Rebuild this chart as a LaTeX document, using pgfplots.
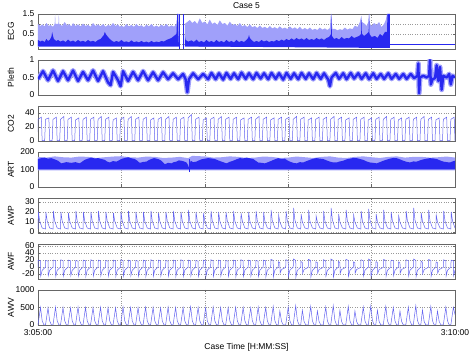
\documentclass[border=0pt]{standalone}
\usepackage{fontspec}
\setmainfont{Liberation Sans}
\usepackage{pgfplots}
\pgfplotsset{compat=1.18}
\definecolor{lightb}{RGB}{160,160,250}
\definecolor{darkb}{RGB}{40,40,240}
\definecolor{lineb}{RGB}{100,100,240}
\newcommand{\ff}{\fontsize{8.5}{10}\selectfont}
\pgfplotsset{
 panel/.style={
  scale only axis, width=417pt, height=35pt,
  xmin=0, xmax=500,
  xtick={0,100,200,300,400,500}, xticklabels={},
  grid=major,
  grid style={dotted, black!40, line width=0.4pt},
  tick align=inside,
  major tick length=2.5pt,
  axis line style={black!60, line width=0.5pt},
  tick style={black!60, line width=0.4pt},
  tick label style={font=\ff},
  ylabel style={font=\ff, at={(axis description cs:-0.065,0.5)}, anchor=center},
  every axis title/.style={font=\ff, at={(axis description cs:0.5,1)}, anchor=south, yshift=1.5pt},
  xlabel style={font=\ff},
  anchor=south west,
 }
}
\begin{document}
\begin{tikzpicture}
\useasboundingbox (0pt,0pt) rectangle (474pt,355pt);
% ECG
\begin{axis}[panel, at={(38pt,306pt)}, ymin=-0.25, ymax=1.5, ytick={0,0.5,1,1.5}, yticklabels={0,0.5,1,1.5}, ylabel={ECG}, title={Case 5}]
\addplot[fill=lightb, draw=none] coordinates {(0,-0.15)(0,1.0)(3,0.9)(5,0.98)(8,0.88)(10,1.05)(13,0.9)(15,0.95)(18,0.86)(20,1.0)(20.5,1.5)(21,1.0)(24.5,1.0)(25,1.5)(25.5,1.0)(29,0.9)(32,1.1)(35,0.92)(37,1.0)(40,0.88)(42,1.05)(45,0.9)(48,0.98)(51,0.88)(54,1.02)(57,0.9)(60,0.96)(63,0.86)(66,1.05)(69,0.9)(72,0.98)(75,0.88)(78,1.0)(81,0.86)(84,0.95)(87,0.9)(90,1.05)(93,0.9)(96,0.98)(98,0.86)(100,0.92)(103,0.85)(106,1.0)(109,0.88)(112,0.95)(115,0.86)(118,1.0)(121,0.88)(124,0.94)(127,0.84)(130,0.97)(133,0.88)(136,1.0)(139,0.86)(142,0.92)(145,0.85)(148,0.97)(151,0.88)(154,1.0)(157,0.86)(160,0.93)(163,0.87)(166,1.0)(167,1.5)(168.5,1.5)(169,-0.15)};
\addplot[fill=lightb, draw=none] coordinates {(176,-0.15)(176,1.0)(179,1.1)(182,1.2)(185,1.05)(188,1.15)(191,1.0)(194,1.28)(197,1.05)(200,1.12)(203,0.98)(206,1.22)(209,1.0)(212,1.08)(215,0.95)(218,1.18)(221,1.0)(224,1.05)(227,0.92)(230,1.12)(233,0.95)(236,1.0)(239,0.9)(242,1.05)(245,0.88)(248,0.95)(251,0.85)(254,0.98)(257,0.84)(260,0.9)(263,0.8)(266,0.92)(269,0.8)(272,0.86)(275,0.78)(278,0.9)(281,0.78)(284,0.84)(287,0.76)(290,0.88)(293,0.76)(296,0.82)(299,0.75)(302,0.88)(305,0.76)(308,0.83)(311,0.74)(314,0.86)(317,0.72)(320,0.8)(323,0.72)(326,0.82)(329,0.7)(332,0.76)(335,0.7)(338,0.82)(341,0.72)(344,0.78)(347,0.7)(350,0.8)(351.2,1.5)(351.8,1.5)(353,0.75)(356,0.76)(359,0.68)(362,0.74)(365,0.7)(368,0.82)(371,0.72)(374,0.78)(377,0.74)(380,0.92)(383,0.85)(386,1.1)(387.5,1.4)(388.5,1.1)(392,1.0)(394,0.9)(396,1.1)(396.7,1.5)(397.3,1.5)(398,1.0)(400,0.9)(403,1.05)(406,0.95)(409,1.1)(412,0.85)(415,1.0)(417,1.2)(418.5,1.5)(422,1.5)(422,-0.15)};
\addplot[fill=darkb, draw=none] coordinates {(0,-0.12)(0,0.2)(3,0.12)(5,0.17)(8,0.1)(10,0.25)(12,0.15)(14,0.2)(16,0.35)(17,0.6)(18,0.4)(19,0.25)(22,0.15)(24,0.2)(27,0.12)(30,0.18)(33,0.1)(36,0.22)(39,0.12)(42,0.17)(45,0.1)(48,0.2)(51,0.12)(54,0.16)(57,0.1)(60,0.2)(63,0.12)(66,0.16)(69,0.1)(72,0.2)(75,0.25)(77,0.35)(79,0.45)(80,0.6)(82,0.45)(84,0.35)(86,0.25)(88,0.18)(91,0.1)(94,0.15)(97,0.1)(100,0.2)(103,0.1)(106,0.13)(109,0.08)(112,0.18)(115,0.09)(118,0.13)(121,0.08)(124,0.15)(127,0.08)(130,0.12)(133,0.07)(136,0.15)(139,0.08)(142,0.12)(145,0.09)(148,0.15)(151,0.12)(154,0.2)(157,0.25)(160,0.3)(163,0.4)(166,0.5)(167,1.5)(168,1.5)(168.5,0.3)(169,-0.12)};
\addplot[fill=darkb, draw=none] coordinates {(176,-0.12)(176,0.45)(177,0.2)(180,0.12)(184,0.18)(187,0.1)(190,0.22)(193,0.1)(196,0.15)(199,0.08)(202,0.2)(205,0.1)(208,0.15)(211,0.08)(214,0.2)(217,0.1)(220,0.15)(223,0.08)(226,0.2)(229,0.1)(232,0.15)(235,0.08)(238,0.2)(241,0.1)(244,0.15)(247,0.1)(250,0.2)(252,0.3)(253,0.45)(254,0.3)(256,0.2)(259,0.1)(262,0.15)(265,0.1)(268,0.2)(271,0.12)(274,0.18)(277,0.1)(280,0.15)(283,0.12)(286,0.2)(289,0.14)(292,0.22)(295,0.16)(298,0.25)(301,0.18)(304,0.28)(307,0.2)(310,0.3)(313,0.22)(316,0.28)(319,0.2)(322,0.3)(325,0.2)(328,0.25)(331,0.2)(334,0.3)(337,0.22)(340,0.28)(343,0.2)(346,0.3)(349,0.35)(351.5,0.5)(352,1.5)(352.5,0.4)(355,0.25)(358,0.3)(361,0.22)(364,0.35)(367,0.25)(370,0.3)(373,0.28)(376,0.4)(379,0.3)(382,0.35)(385,0.4)(387.5,0.5)(388,1.4)(388.5,0.5)(391,0.4)(394,0.5)(396.5,0.6)(397,1.5)(397.5,0.5)(400,0.35)(404,0.4)(407,0.3)(410,0.5)(413,0.4)(416,0.6)(418.5,0.6)(419,1.5)(422,1.5)(422,-0.2)};
\addplot[darkb, line width=0.6pt] coordinates {(170,-0.25)(170,1.5)};
\addplot[darkb, line width=0.6pt] coordinates {(174,-0.25)(174,1.5)};
\addplot[darkb, line width=0.6pt] coordinates {(422,0)(500,0)};
\end{axis}
% Pleth
\begin{axis}[panel, at={(38pt,260pt)}, ymin=0, ymax=1, ytick={0,0.5,1}, yticklabels={0,0.5,1}, ylabel={Pleth}]
\addplot[lightb, line width=5pt, line join=round] coordinates {(0,0.45)(6,0.68)(12,0.42)(18,0.70)(24,0.40)(30,0.68)(36,0.42)(42,0.70)(48,0.40)(54,0.66)(60,0.42)(66,0.70)(72,0.40)(78,0.68)(84,0.36)(87,0.28)(90,0.66)(96,0.42)(99,0.25)(102,0.68)(108,0.40)(114,0.66)(120,0.42)(126,0.68)(132,0.42)(138,0.65)(144,0.42)(150,0.65)(156,0.45)(162,0.62)(168,0.45)(174,0.60)(177,0.45)(179,0.08)(181,0.45)(186,0.62)(192,0.45)(198,0.60)(204,0.45)(208,0.63)(213,0.45)(217,0.62)(222,0.44)(226,0.63)(231,0.46)(235,0.62)(240,0.45)(244,0.64)(249,0.46)(253,0.62)(258,0.45)(262,0.63)(267,0.47)(271,0.62)(276,0.45)(280,0.63)(285,0.46)(289,0.62)(294,0.44)(298,0.63)(303,0.46)(307,0.62)(312,0.45)(316,0.63)(321,0.46)(325,0.62)(330,0.45)(334,0.63)(339,0.46)(343,0.62)(348,0.44)(350,0.25)(352,0.50)(357,0.63)(361,0.46)(366,0.62)(370,0.45)(375,0.63)(379,0.47)(384,0.62)(388,0.46)(393,0.62)(397,0.45)(402,0.62)(406,0.46)(411,0.60)(415,0.46)(420,0.62)(424,0.46)(429,0.60)(433,0.46)(438,0.60)(442,0.46)(447,0.60)(451,0.48)(455,0.55)(456,0.9)(457,0.05)(458,0.5)(462,0.55)(466,0.5)(469,0.55)(470,1.0)(471,0.3)(473,0.45)(476,0.48)(478,0.85)(480,0.4)(482,0.8)(484,0.15)(486,0.55)(490,0.5)(493,0.6)(495,0.3)(497,0.55)(500,0.5)};
\addplot[darkb, line width=2.4pt, line join=round] coordinates {(0,0.45)(6,0.68)(12,0.42)(18,0.70)(24,0.40)(30,0.68)(36,0.42)(42,0.70)(48,0.40)(54,0.66)(60,0.42)(66,0.70)(72,0.40)(78,0.68)(84,0.36)(87,0.28)(90,0.66)(96,0.42)(99,0.25)(102,0.68)(108,0.40)(114,0.66)(120,0.42)(126,0.68)(132,0.42)(138,0.65)(144,0.42)(150,0.65)(156,0.45)(162,0.62)(168,0.45)(174,0.60)(177,0.45)(179,0.08)(181,0.45)(186,0.62)(192,0.45)(198,0.60)(204,0.45)(208,0.63)(213,0.45)(217,0.62)(222,0.44)(226,0.63)(231,0.46)(235,0.62)(240,0.45)(244,0.64)(249,0.46)(253,0.62)(258,0.45)(262,0.63)(267,0.47)(271,0.62)(276,0.45)(280,0.63)(285,0.46)(289,0.62)(294,0.44)(298,0.63)(303,0.46)(307,0.62)(312,0.45)(316,0.63)(321,0.46)(325,0.62)(330,0.45)(334,0.63)(339,0.46)(343,0.62)(348,0.44)(350,0.25)(352,0.50)(357,0.63)(361,0.46)(366,0.62)(370,0.45)(375,0.63)(379,0.47)(384,0.62)(388,0.46)(393,0.62)(397,0.45)(402,0.62)(406,0.46)(411,0.60)(415,0.46)(420,0.62)(424,0.46)(429,0.60)(433,0.46)(438,0.60)(442,0.46)(447,0.60)(451,0.48)(455,0.55)(456,0.9)(457,0.05)(458,0.5)(462,0.55)(466,0.5)(469,0.55)(470,1.0)(471,0.3)(473,0.45)(476,0.48)(478,0.85)(480,0.4)(482,0.8)(484,0.15)(486,0.55)(490,0.5)(493,0.6)(495,0.3)(497,0.55)(500,0.5)};
\end{axis}
% CO2
\begin{axis}[panel, at={(38pt,214pt)}, ymin=0, ymax=50, ytick={0,20,40}, yticklabels={0,20,40}, ylabel={CO2}]
\addplot[lineb, line width=0.5pt] coordinates {(-1,.5)(0,31)(4,34)(5,.5)(8,.5)(9,31)(13,33)(14,.5)(17,.5)(18,31)(22,34)(23,.5)(26,.5)(27,31)(31,35)(32,.5)(35,.5)(36,31)(40,34)(41,.5)(44,.5)(45,30)(49,33)(50,.5)(53,.5)(54,31)(58,34)(59,.5)(62,.5)(63,31)(67,34)(68,.5)(71,.5)(72,31)(76,35)(77,.5)(80,.5)(81,31)(85,34)(86,.5)(89,.5)(90,30)(94,33)(95,.5)(98,.5)(99,31)(103,34)(104,.5)(107,.5)(108,31)(112,35)(113,.5)(116,.5)(117,31)(121,34)(122,.5)(125,.5)(126,31)(130,34)(131,.5)(134,.5)(135,30)(139,33)(140,.5)(143,.5)(144,31)(148,34)(149,.5)(152,.5)(153,31)(157,35)(158,.5)(161,.5)(162,31)(166,34)(167,.5)(170,.5)(171,31)(175,34)(176,.5)(179,.5)(180,33)(184,38)(185,.5)(188,.5)(189,31)(193,34)(194,.5)(197,.5)(198,30)(202,33)(203,.5)(206,.5)(207,31)(211,34)(212,.5)(215,.5)(216,31)(220,35)(221,.5)(224,.5)(225,31)(229,34)(230,.5)(233,.5)(234,31)(238,34)(239,.5)(242,.5)(243,30)(247,33)(248,.5)(251,.5)(252,31)(256,34)(257,.5)(260,.5)(261,31)(265,35)(266,.5)(269,.5)(270,31)(274,34)(275,.5)(278,.5)(279,30)(283,33)(284,.5)(287,.5)(288,31)(292,34)(293,.5)(296,.5)(297,31)(301,34)(302,.5)(305,.5)(306,31)(310,35)(311,.5)(314,.5)(315,31)(319,34)(320,.5)(323,.5)(324,30)(328,33)(329,.5)(332,.5)(333,31)(337,34)(338,.5)(341,.5)(342,31)(346,34)(347,.5)(350,.5)(351,31)(355,35)(356,.5)(359,.5)(360,31)(364,34)(365,.5)(368,.5)(369,30)(373,33)(374,.5)(377,.5)(378,31)(382,34)(383,.5)(386,.5)(387,31)(391,34)(392,.5)(395,.5)(396,30)(400,33)(401,.5)(404,.5)(405,31)(409,34)(410,.5)(413,.5)(414,31)(418,35)(419,.5)(422,.5)(423,31)(427,34)(428,.5)(431,.5)(432,30)(436,33)(437,.5)(440,.5)(441,31)(445,34)(446,.5)(449,.5)(450,31)(454,34)(455,.5)(458,.5)(459,31)(463,35)(464,.5)(467,.5)(468,31)(472,34)(473,.5)(476,.5)(477,30)(481,33)(482,.5)(485,.5)(486,31)(490,34)(491,.5)(494,.5)(495,31)(499,34)(500,.5)};
\end{axis}
% ART
\begin{axis}[panel, at={(38pt,168pt)}, ymin=0, ymax=200, ytick={0,100,200}, yticklabels={0,100,200}, ylabel={ART}]
\addplot[fill=lightb, draw=none] coordinates {(0,95)(0,172)(10,168)(20,175)(30,170)(40,168)(50,174)(60,172)(70,166)(80,170)(90,174)(100,176)(110,170)(120,168)(130,174)(140,172)(150,166)(160,168)(170,172)(180,165)(185,178)(192,176)(200,175)(210,168)(220,170)(230,175)(240,172)(250,166)(260,168)(270,174)(280,172)(290,166)(300,168)(310,174)(320,170)(330,166)(340,172)(350,175)(360,168)(370,166)(380,172)(390,175)(400,170)(410,166)(420,172)(430,175)(440,168)(450,172)(460,172)(470,168)(480,170)(490,174)(500,168)(500,95)};
\addplot[fill=darkb, draw=none] coordinates {(0,100)(0,160)(4,165)(8,168)(12,162)(16,165)(20,158)(24,150)(28,135)(34,142)(40,138)(45,142)(50,135)(53,145)(56,155)(60,162)(64,168)(68,163)(72,165)(76,160)(80,155)(83,145)(86,140)(90,148)(94,145)(97,152)(100,160)(104,166)(108,170)(112,164)(116,160)(119,150)(122,138)(126,143)(130,145)(133,154)(136,160)(139,165)(142,162)(145,158)(148,150)(152,130)(156,138)(160,135)(163,142)(166,145)(169,152)(172,150)(175,146)(178,140)(180,125)(181,110)(182,130)(183,150)(186,142)(190,145)(193,152)(196,158)(200,162)(204,165)(208,163)(212,160)(216,152)(220,145)(223,140)(226,135)(230,144)(234,150)(238,158)(242,165)(246,163)(250,168)(254,164)(258,160)(261,150)(264,140)(268,138)(272,135)(276,142)(280,150)(284,158)(288,165)(292,160)(296,162)(299,152)(302,145)(306,138)(310,135)(314,142)(318,140)(322,148)(326,155)(330,162)(334,165)(338,162)(342,160)(346,152)(350,145)(354,140)(358,140)(362,146)(366,150)(370,158)(374,162)(378,166)(382,165)(386,160)(390,155)(394,146)(398,140)(402,138)(406,135)(410,142)(414,150)(418,156)(422,162)(426,166)(430,165)(434,158)(438,150)(442,144)(446,140)(450,146)(454,145)(458,152)(462,158)(466,162)(470,165)(474,163)(478,160)(482,152)(486,145)(490,142)(494,140)(497,146)(500,150)(500,100)};
\addplot[darkb, line width=0.6pt] coordinates {(181,85)(181,160)};
\end{axis}
% AWP
\begin{axis}[panel, at={(38pt,122pt)}, ymin=-1, ymax=34, ytick={0,10,20,30}, yticklabels={0,10,20,30}, ylabel={AWP}]
\addplot[lineb, line width=0.5pt] coordinates {(0,3)(0.5,20)(2,11)(5,4)(9,3)(9.5,20)(11,11)(14,4)(18,3)(18.5,21)(20,11)(23,4)(27,3)(27.5,20)(29,11)(32,4)(36,3)(36.5,19)(38,11)(41,4)(45,3)(45.5,21)(47,11)(50,4)(54,3)(54.5,20)(56,11)(59,4)(63,3)(63.5,20)(65,11)(68,4)(72,3)(72.5,21)(74,11)(77,4)(81,3)(81.5,20)(83,11)(86,4)(90,3)(90.5,19)(92,11)(95,4)(99,3)(99.5,20)(101,11)(104,4)(108,3)(108.5,21)(110,11)(113,4)(117,3)(117.5,20)(119,11)(122,4)(126,3)(126.5,20)(128,11)(131,4)(135,3)(135.5,21)(137,11)(140,4)(144,3)(144.5,19)(146,11)(149,4)(153,3)(153.5,20)(155,11)(158,4)(162,3)(162.5,21)(164,11)(167,4)(171,3)(171.5,20)(173,11)(176,4)(180,3)(180.5,22)(182,11)(185,4)(189,3)(189.5,20)(191,11)(194,4)(198,3)(198.5,19)(200,11)(203,4)(207,3)(207.5,21)(209,11)(212,4)(216,3)(216.5,20)(218,11)(221,4)(225,3)(225.5,20)(227,11)(230,4)(234,3)(234.5,21)(236,11)(239,4)(243,3)(243.5,19)(245,11)(248,4)(252,3)(252.5,20)(254,11)(257,4)(261,3)(261.5,21)(263,11)(266,4)(270,3)(270.5,20)(272,11)(275,4)(279,3)(279.5,22)(281,11)(284,4)(288,3)(288.5,17)(290,10)(293,4)(297,3)(297.5,21)(299,11)(302,4)(306,3)(306.5,24)(308,12)(311,4)(315,3)(315.5,18)(317,10)(320,4)(324,3)(324.5,22)(326,11)(329,4)(333,3)(333.5,16)(335,10)(338,4)(342,3)(342.5,21)(344,11)(347,4)(351,3)(351.5,24)(353,12)(356,4)(360,3)(360.5,18)(362,10)(365,4)(369,3)(369.5,22)(371,11)(374,4)(378,3)(378.5,17)(380,10)(383,4)(387,3)(387.5,21)(389,11)(392,4)(396,3)(396.5,23)(398,12)(401,4)(405,3)(405.5,18)(407,10)(410,4)(414,3)(414.5,22)(416,11)(419,4)(423,3)(423.5,20)(425,11)(428,4)(432,3)(432.5,16)(434,10)(437,4)(441,3)(441.5,21)(443,11)(446,4)(450,3)(450.5,24)(452,12)(455,4)(459,3)(459.5,19)(461,11)(464,4)(468,3)(468.5,22)(470,11)(473,4)(477,3)(477.5,17)(479,10)(482,4)(486,3)(486.5,21)(488,11)(491,4)(495,3)(495.5,20)(497,11)(500,4)};
\end{axis}
% AWF
\begin{axis}[panel, at={(38pt,76pt)}, ymin=-35, ymax=65, ytick={-20,0,20,40,60}, yticklabels={-20,0,20,40,60}, ylabel={AWF}]
\addplot[lineb, line width=0.5pt] coordinates {(0,-2)(0.3,19)(3,17)(3.3,-27)(5,-10)(8,-3)(9,-2)(9.3,18)(12,16)(12.3,-26)(14,-10)(17,-3)(18,-2)(18.3,19)(21,17)(21.3,-28)(23,-10)(26,-3)(27,-2)(27.3,20)(30,17)(30.3,-27)(32,-10)(35,-3)(36,-2)(36.3,19)(39,17)(39.3,-26)(41,-10)(44,-3)(45,-2)(45.3,18)(48,16)(48.3,-27)(50,-10)(53,-3)(54,-2)(54.3,19)(57,17)(57.3,-28)(59,-10)(62,-3)(63,-2)(63.3,20)(66,17)(66.3,-27)(68,-10)(71,-3)(72,-2)(72.3,19)(75,17)(75.3,-26)(77,-10)(80,-3)(81,-2)(81.3,18)(84,16)(84.3,-27)(86,-10)(89,-3)(90,-2)(90.3,19)(93,17)(93.3,-28)(95,-10)(98,-3)(99,-2)(99.3,20)(102,17)(102.3,-27)(104,-10)(107,-3)(108,-2)(108.3,19)(111,17)(111.3,-26)(113,-10)(116,-3)(117,-2)(117.3,18)(120,16)(120.3,-27)(122,-10)(125,-3)(126,-2)(126.3,19)(129,17)(129.3,-28)(131,-10)(134,-3)(135,-2)(135.3,20)(138,17)(138.3,-27)(140,-10)(143,-3)(144,-2)(144.3,19)(147,17)(147.3,-26)(149,-10)(152,-3)(153,-2)(153.3,18)(156,16)(156.3,-27)(158,-10)(161,-3)(162,-2)(162.3,19)(165,17)(165.3,-28)(167,-10)(170,-3)(171,-2)(171.3,20)(174,17)(174.3,-27)(176,-10)(179,-3)(180,-2)(180.3,19)(183,17)(183.3,-26)(185,-10)(188,-3)(189,-2)(189.3,18)(192,16)(192.3,-27)(194,-10)(197,-3)(198,-2)(198.3,19)(201,17)(201.3,-28)(203,-10)(206,-3)(207,-2)(207.3,20)(210,17)(210.3,-27)(212,-10)(215,-3)(216,-2)(216.3,19)(219,17)(219.3,-26)(221,-10)(224,-3)(225,-2)(225.3,18)(228,16)(228.3,-27)(230,-10)(233,-3)(234,-2)(234.3,19)(237,17)(237.3,-28)(239,-10)(242,-3)(243,-2)(243.3,20)(246,17)(246.3,-27)(248,-10)(251,-3)(252,-2)(252.3,19)(255,17)(255.3,-26)(257,-10)(260,-3)(261,-2)(261.3,18)(264,16)(264.3,-27)(266,-10)(269,-3)(270,-2)(270.3,19)(273,17)(273.3,-28)(275,-10)(278,-3)(279,-2)(279.3,21)(282,18)(282.3,-28)(284,-10)(287,-3)(288,-2)(288.3,14)(290,12)(290.3,-18)(292,-8)(296,-3)(297,-2)(297.3,20)(300,17)(300.3,-27)(302,-10)(305,-3)(306,-2)(306.3,22)(309,18)(309.3,-29)(311,-10)(314,-3)(315,-2)(315.3,15)(317,12)(317.3,-19)(319,-8)(323,-3)(324,-2)(324.3,21)(327,18)(327.3,-28)(329,-10)(332,-3)(333,-2)(333.3,14)(335,12)(335.3,-18)(337,-8)(341,-3)(342,-2)(342.3,20)(345,17)(345.3,-27)(347,-10)(350,-3)(351,-2)(351.3,22)(354,18)(354.3,-29)(356,-10)(359,-3)(360,-2)(360.3,15)(362,12)(362.3,-19)(364,-8)(368,-3)(369,-2)(369.3,21)(372,18)(372.3,-28)(374,-10)(377,-3)(378,-2)(378.3,14)(380,12)(380.3,-18)(382,-8)(386,-3)(387,-2)(387.3,20)(390,17)(390.3,-27)(392,-10)(395,-3)(396,-2)(396.3,22)(399,18)(399.3,-29)(401,-10)(404,-3)(405,-2)(405.3,15)(407,12)(407.3,-19)(409,-8)(413,-3)(414,-2)(414.3,21)(417,18)(417.3,-28)(419,-10)(422,-3)(423,-2)(423.3,19)(426,17)(426.3,-26)(428,-10)(431,-3)(432,-2)(432.3,14)(434,12)(434.3,-18)(436,-8)(440,-3)(441,-2)(441.3,20)(444,17)(444.3,-27)(446,-10)(449,-3)(450,-2)(450.3,22)(453,18)(453.3,-29)(455,-10)(458,-3)(459,-2)(459.3,16)(461,13)(461.3,-20)(463,-8)(467,-3)(468,-2)(468.3,21)(471,18)(471.3,-28)(473,-10)(476,-3)(477,-2)(477.3,14)(479,12)(479.3,-18)(481,-8)(485,-3)(486,-2)(486.3,20)(489,17)(489.3,-27)(491,-10)(494,-3)(495,-2)(495.3,19)(498,17)(498.3,-26)(500,-10)};
\end{axis}
% AWV
\begin{axis}[panel, at={(38pt,30pt)}, ymin=0, ymax=1000, ytick={0,500,1000}, yticklabels={0,500,1000}, ylabel={AWV}, xticklabels={3:05:00,,,,,3:10:00}, xticklabel style={yshift=-1.5pt}, xlabel={Case Time [H:MM:SS]}]
\addplot[lineb, line width=0.5pt] coordinates {(0,2)(3,500)(5,120)(7,5)(9,2)(12,490)(14,120)(16,5)(18,2)(21,510)(23,120)(25,5)(27,2)(30,500)(32,120)(34,5)(36,2)(39,490)(41,120)(43,5)(45,2)(48,510)(50,120)(52,5)(54,2)(57,500)(59,120)(61,5)(63,2)(66,495)(68,120)(70,5)(72,2)(75,505)(77,120)(79,5)(81,2)(84,500)(86,120)(88,5)(90,2)(93,490)(95,120)(97,5)(99,2)(102,510)(104,120)(106,5)(108,2)(111,500)(113,120)(115,5)(117,2)(120,495)(122,120)(124,5)(126,2)(129,505)(131,120)(133,5)(135,2)(138,500)(140,120)(142,5)(144,2)(147,490)(149,120)(151,5)(153,2)(156,510)(158,120)(160,5)(162,2)(165,500)(167,120)(169,5)(171,2)(174,495)(176,120)(178,5)(180,2)(183,520)(185,120)(187,5)(189,2)(192,500)(194,120)(196,5)(198,2)(201,490)(203,120)(205,5)(207,2)(210,510)(212,120)(214,5)(216,2)(219,500)(221,120)(223,5)(225,2)(228,495)(230,120)(232,5)(234,2)(237,505)(239,120)(241,5)(243,2)(246,500)(248,120)(250,5)(252,2)(255,490)(257,120)(259,5)(261,2)(264,510)(266,120)(268,5)(270,2)(273,500)(275,120)(277,5)(279,2)(282,530)(284,120)(286,5)(288,2)(290,400)(292,100)(294,5)(297,2)(300,510)(302,120)(304,5)(306,2)(309,550)(311,130)(313,5)(315,2)(317,420)(319,100)(321,5)(324,2)(327,530)(329,120)(331,5)(333,2)(335,400)(337,100)(339,5)(342,2)(345,510)(347,120)(349,5)(351,2)(354,550)(356,130)(358,5)(360,2)(362,420)(364,100)(366,5)(369,2)(372,530)(374,120)(376,5)(378,2)(380,400)(382,100)(384,5)(387,2)(390,510)(392,120)(394,5)(396,2)(399,540)(401,130)(403,5)(405,2)(407,420)(409,100)(411,5)(414,2)(417,530)(419,120)(421,5)(423,2)(426,500)(428,120)(430,5)(432,2)(434,400)(436,100)(438,5)(441,2)(444,510)(446,120)(448,5)(450,2)(453,550)(455,130)(457,5)(459,2)(461,430)(463,100)(465,5)(468,2)(471,530)(473,120)(475,5)(477,2)(479,400)(481,100)(483,5)(486,2)(489,510)(491,120)(493,5)(495,2)(498,500)(500,300)};
\end{axis}
\end{tikzpicture}
\end{document}
